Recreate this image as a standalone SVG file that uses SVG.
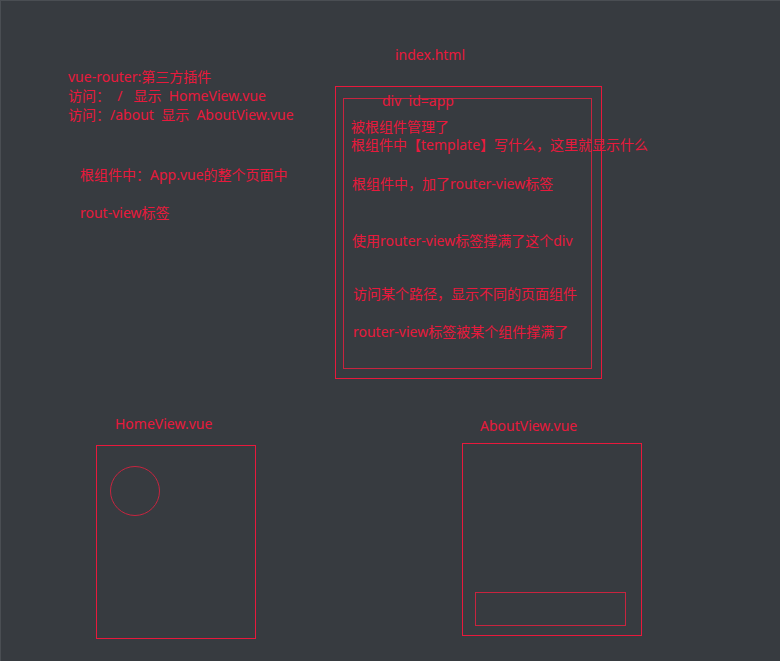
<svg xmlns="http://www.w3.org/2000/svg" width="780" height="661" viewBox="0 0 780 661">
<style>
text{font-family:"Noto Sans","Noto Sans CJK SC",sans-serif;font-size:14px;fill:#e8193c}
.box{fill:none;stroke:#e8193c;stroke-width:1}
.dim{stroke:#c8243f}
</style>
<rect x="0" y="0" width="780" height="661" fill="#373b40"/>
<line x1="0.5" y1="0" x2="0.5" y2="661" stroke="#4a4e53"/>
<line x1="0" y1="0.5" x2="780" y2="0.5" stroke="#4a4e53"/>
<g id="notes">
<text x="68" y="82">vue-router:第三方插件</text>
<text x="68" y="101" xml:space="preserve">访问：  /   显示  HomeView.vue</text>
<text x="68" y="120" xml:space="preserve">访问：/about  显示  AboutView.vue</text>
<text x="80" y="180">根组件中：App.vue的整个页面中</text>
<text x="80" y="218">rout-view标签</text>
</g>
<g id="index-html">
<text x="395" y="60">index.html</text>
<rect class="box" x="335.5" y="86.5" width="266" height="292"/>
</g>
<g id="div-app">
<rect class="box dim" x="343.5" y="98.5" width="248" height="270"/>
<text x="382" y="106" xml:space="preserve">div  id=app</text>
<text x="351" y="132">被根组件管理了</text>
<text x="351" y="150">根组件中【template】写什么，这里就显示什么</text>
<text x="352" y="189">根组件中，加了router-view标签</text>
<text x="352" y="246">使用router-view标签撑满了这个div</text>
<text x="353" y="299">访问某个路径，显示不同的页面组件</text>
<text x="353" y="337">router-view标签被某个组件撑满了</text>
</g>
<g id="homeview">
<text x="115" y="429">HomeView.vue</text>
<rect class="box" x="96.5" y="445.5" width="159" height="193"/>
<circle class="box dim" cx="135" cy="491" r="24.5"/>
</g>
<g id="aboutview">
<text x="480" y="431">AboutView.vue</text>
<rect class="box" x="462.5" y="443.5" width="179" height="192"/>
<rect class="box dim" x="475.5" y="592.5" width="150" height="33"/>
</g>
<g id="connectors"></g>
</svg>
